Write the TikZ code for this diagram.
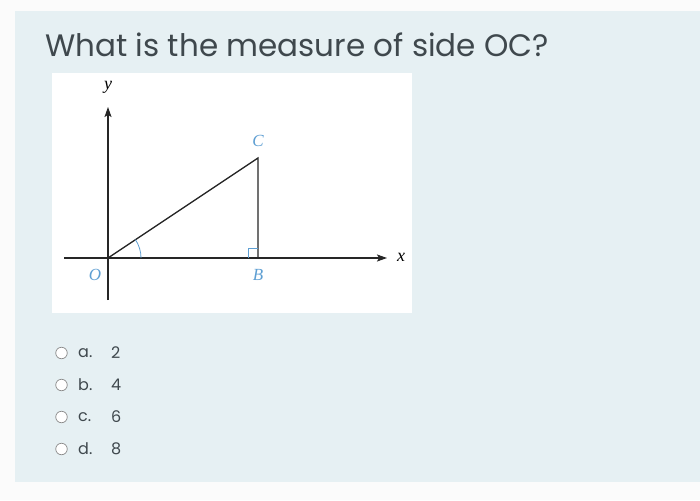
\documentclass[tikz,border=0pt]{standalone}
\usepackage{fontspec}
\setmainfont{Poppins}
\newfontfamily\figfont{Liberation Serif}
\usetikzlibrary{arrows.meta}
\definecolor{panel}{HTML}{E6F0F3}
\definecolor{ink}{HTML}{3F484D}
\definecolor{ptblue}{HTML}{5E9FD3}
\definecolor{axis}{HTML}{262626}
\definecolor{radio}{HTML}{8A8A8A}

\begin{document}
\begin{tikzpicture}[x=1pt,y=-1pt,>={Stealth[length=10pt,width=7pt,inset=2pt]}]
	\useasboundingbox (0,0) rectangle (700,500);
	\fill[color=white!97!gray] (0,0) rectangle (700,500);
	\fill[color=panel] (15,11) rectangle (700,482);
	\fill[color=white] (52,73) rectangle (412,313);
	
	\node[anchor=base west, inner sep=0, color=ink, font=\fontsize{31}{34}\selectfont] (question) at (45,57) {What is the measure of side OC?};
	
	% the figure
	\coordinate (O) at (108,258);
	\coordinate (B) at (258,258);
	\coordinate (C) at (258,158);
	\coordinate (xstart) at (64,258);
	\coordinate (xend) at (387,258);
	\coordinate (ystart) at (108,300);
	\coordinate (yend) at (108,107);
	
	\draw[line width=1.3pt, color=axis, ->] (xstart) -- (xend);
	\draw[line width=1.3pt, color=axis, ->] (ystart) -- (yend);
	
	\draw[line width=1.3pt, color=axis] (O) -- (C) -- (B);
	
	\draw[color=ptblue, line width=0.8pt] ([xshift=33pt]O) arc[start angle=0, end angle=-33.7, radius=33];
	\draw[color=ptblue, line width=0.8pt] ([xshift=-10pt]B) -- ++(0,-10) -- ++(10,0);
	
	\node[font=\figfont\itshape\fontsize{18}{18}\selectfont] (ylabel) at (108,87) {y};
	\node[font=\figfont\itshape\fontsize{18}{18}\selectfont] (xlabel) at (401,257) {x};
	\node[color=ptblue, font=\figfont\itshape\fontsize{17}{17}\selectfont] (Clabel) at (258,141) {C};
	\node[color=ptblue, font=\figfont\itshape\fontsize{17}{17}\selectfont] (Blabel) at (258,275) {B};
	\node[color=ptblue, font=\figfont\itshape\fontsize{17}{17}\selectfont] (Olabel) at (95,275) {O};
	
	% the choices
	\foreach \lab/\val [count=\i] in {a/2,b/4,c/6,d/8}{
		\node[circle, draw=radio, fill=white, line width=0.7pt, minimum size=11.5pt, inner sep=0] (radio\lab) at (61.5,321+32*\i) {};
		\node[anchor=west, inner sep=0, color=ink, font=\fontsize{16}{16}\selectfont] (opt\lab) at (78,321+32*\i) {\lab.};
		\node[anchor=west, inner sep=0, color=ink, font=\fontsize{16}{16}\selectfont] (val\lab) at (111,321+32*\i) {\val};
	}
\end{tikzpicture}
\end{document}
